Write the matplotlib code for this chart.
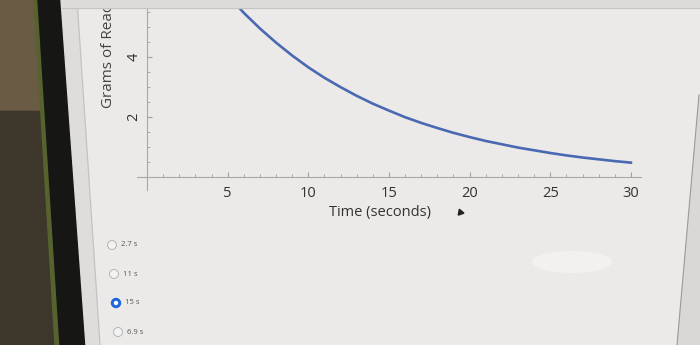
import matplotlib
matplotlib.use("Agg")
import matplotlib.pyplot as plt
from matplotlib.patches import Polygon, Rectangle, Circle, Ellipse
from matplotlib.ticker import FixedLocator, MultipleLocator

plt.rcParams.update({
    "font.family": ["Open Sans", "DejaVu Sans"],
    "font.size": 10,
})

# values (grams vs. seconds)
time_s = [5, 6, 7, 8, 9, 10, 11, 12, 13, 14, 15, 16, 17, 18, 19, 20,
          21, 22, 23, 24, 25, 26, 27, 28, 29, 30]
grams = [6.05, 5.47, 4.95, 4.48, 4.05, 3.66, 3.31, 3.00, 2.71, 2.45, 2.22,
         2.00, 1.81, 1.64, 1.48, 1.34, 1.21, 1.10, 0.99, 0.90, 0.81, 0.73,
         0.66, 0.60, 0.54, 0.49]

x_ticks = [5, 10, 15, 20, 25, 30]
y_ticks = [2, 4]

answers = ["2.7 s", "11 s", "15 s", "6.9 s"]
selected = "15 s"

W, H = 700, 345
fig = plt.figure(figsize=(7, 3.45), dpi=100)
fig.patch.set_facecolor("#eceae8")

# backdrop in pixel coordinates (screen photo surroundings)
bg = fig.add_axes([0, 0, 1, 1], zorder=-1)
bg.set_xlim(0, W)
bg.set_ylim(H, 0)
bg.axis("off")
bg.add_patch(Polygon([(0, 0), (34, 0), (55, H), (0, H)], color="#3d362b"))
bg.add_patch(Polygon([(0, 0), (34, 0), (40, 110), (0, 110)], color="#6a5c44"))
bg.add_patch(Polygon([(34, 0), (38, 0), (60, H), (55, H)], color="#56632e"))
bg.add_patch(Polygon([(38, 0), (61, 0), (86, H), (60, H)], color="#161615"))
bg.add_patch(Polygon([(61, 0), (77, 0), (100, H), (86, H)], color="#dedddb"))
bg.plot([77, 100], [0, H], color="#c2c2c2", lw=0.8)
bg.add_patch(Polygon([(699, 95), (W, 95), (W, H), (677, H)], color="#d9d8d6"))
bg.plot([699, 677], [95, H], color="#9a9a9a", lw=0.8)
bg.add_patch(Ellipse((572, 262), 80, 22, color="white", alpha=0.35, lw=0))

# answer choices
for i, txt in enumerate(answers):
    cx, cy = 112 + 2 * i, 245 + 29 * i
    if txt == selected:
        bg.add_patch(Circle((cx, cy), 4.5, facecolor="#1f66d8", edgecolor="#1f66d8"))
        bg.add_patch(Circle((cx, cy), 1.5, color="white"))
    else:
        bg.add_patch(Circle((cx, cy), 4.5, facecolor="#f2f2f2", edgecolor="#b5b5b5", lw=0.7))
    bg.text(cx + 9, cy, txt, fontsize=5.5, color="#555555", va="center", ha="left")

bg.text(108, 108, "Grams of Reactant", rotation=90, ha="center", va="bottom",
        fontsize=11, color="#444444")

# chart
ax = fig.add_axes([137.3 / W, 155 / H, 503.3 / W, 182 / H])
ax.patch.set_alpha(0)
ax.plot(time_s, grams, color="#4a69b3", lw=1.9)
ax.set_xlim(-0.6, 30.6)
ax.set_ylim(-0.42, 5.63)

for side in ["top", "right"]:
    ax.spines[side].set_visible(False)
for side in ["left", "bottom"]:
    ax.spines[side].set_position(("data", 0))
    ax.spines[side].set_color("#a8a8a8")
    ax.spines[side].set_linewidth(0.8)
ax.spines["left"].set_bounds(-0.42, 5.63)
ax.spines["bottom"].set_bounds(-0.6, 30.6)

ax.xaxis.set_major_locator(FixedLocator(x_ticks))
ax.xaxis.set_minor_locator(MultipleLocator(1))
ax.yaxis.set_major_locator(FixedLocator(y_ticks))
ax.yaxis.set_minor_locator(MultipleLocator(0.5))
ax.tick_params(which="both", direction="in", color="#a0a0a0", labelcolor="#333333")
ax.tick_params(which="major", length=3.5, width=0.8)
ax.tick_params(which="minor", length=2, width=0.6)
ax.tick_params(axis="x", pad=6, labelsize=10.5)
ax.tick_params(axis="y", pad=4, labelsize=10.5, labelrotation=90)
for lab in ax.get_yticklabels():
    lab.set_va("center")

ax.set_xlabel("Time (seconds)", fontsize=10.5, color="#333333")
ax.xaxis.set_label_coords(0.482, -0.085)

# cursor arrow
bg.plot([460], [212], marker=(3, 0, 20), ms=5, color="#222222")

# top bar covering the label
top = fig.add_axes([0, 0, 1, 1], zorder=5)
top.set_xlim(0, W)
top.set_ylim(H, 0)
top.axis("off")
top.patch.set_alpha(0)
top.add_patch(Rectangle((62, 0), W - 62, 8, color="#dddcda"))
top.plot([62, W], [8, 8], color="#c4c4c4", lw=0.8)

fig.savefig("out.png", dpi=100, facecolor=fig.get_facecolor())
